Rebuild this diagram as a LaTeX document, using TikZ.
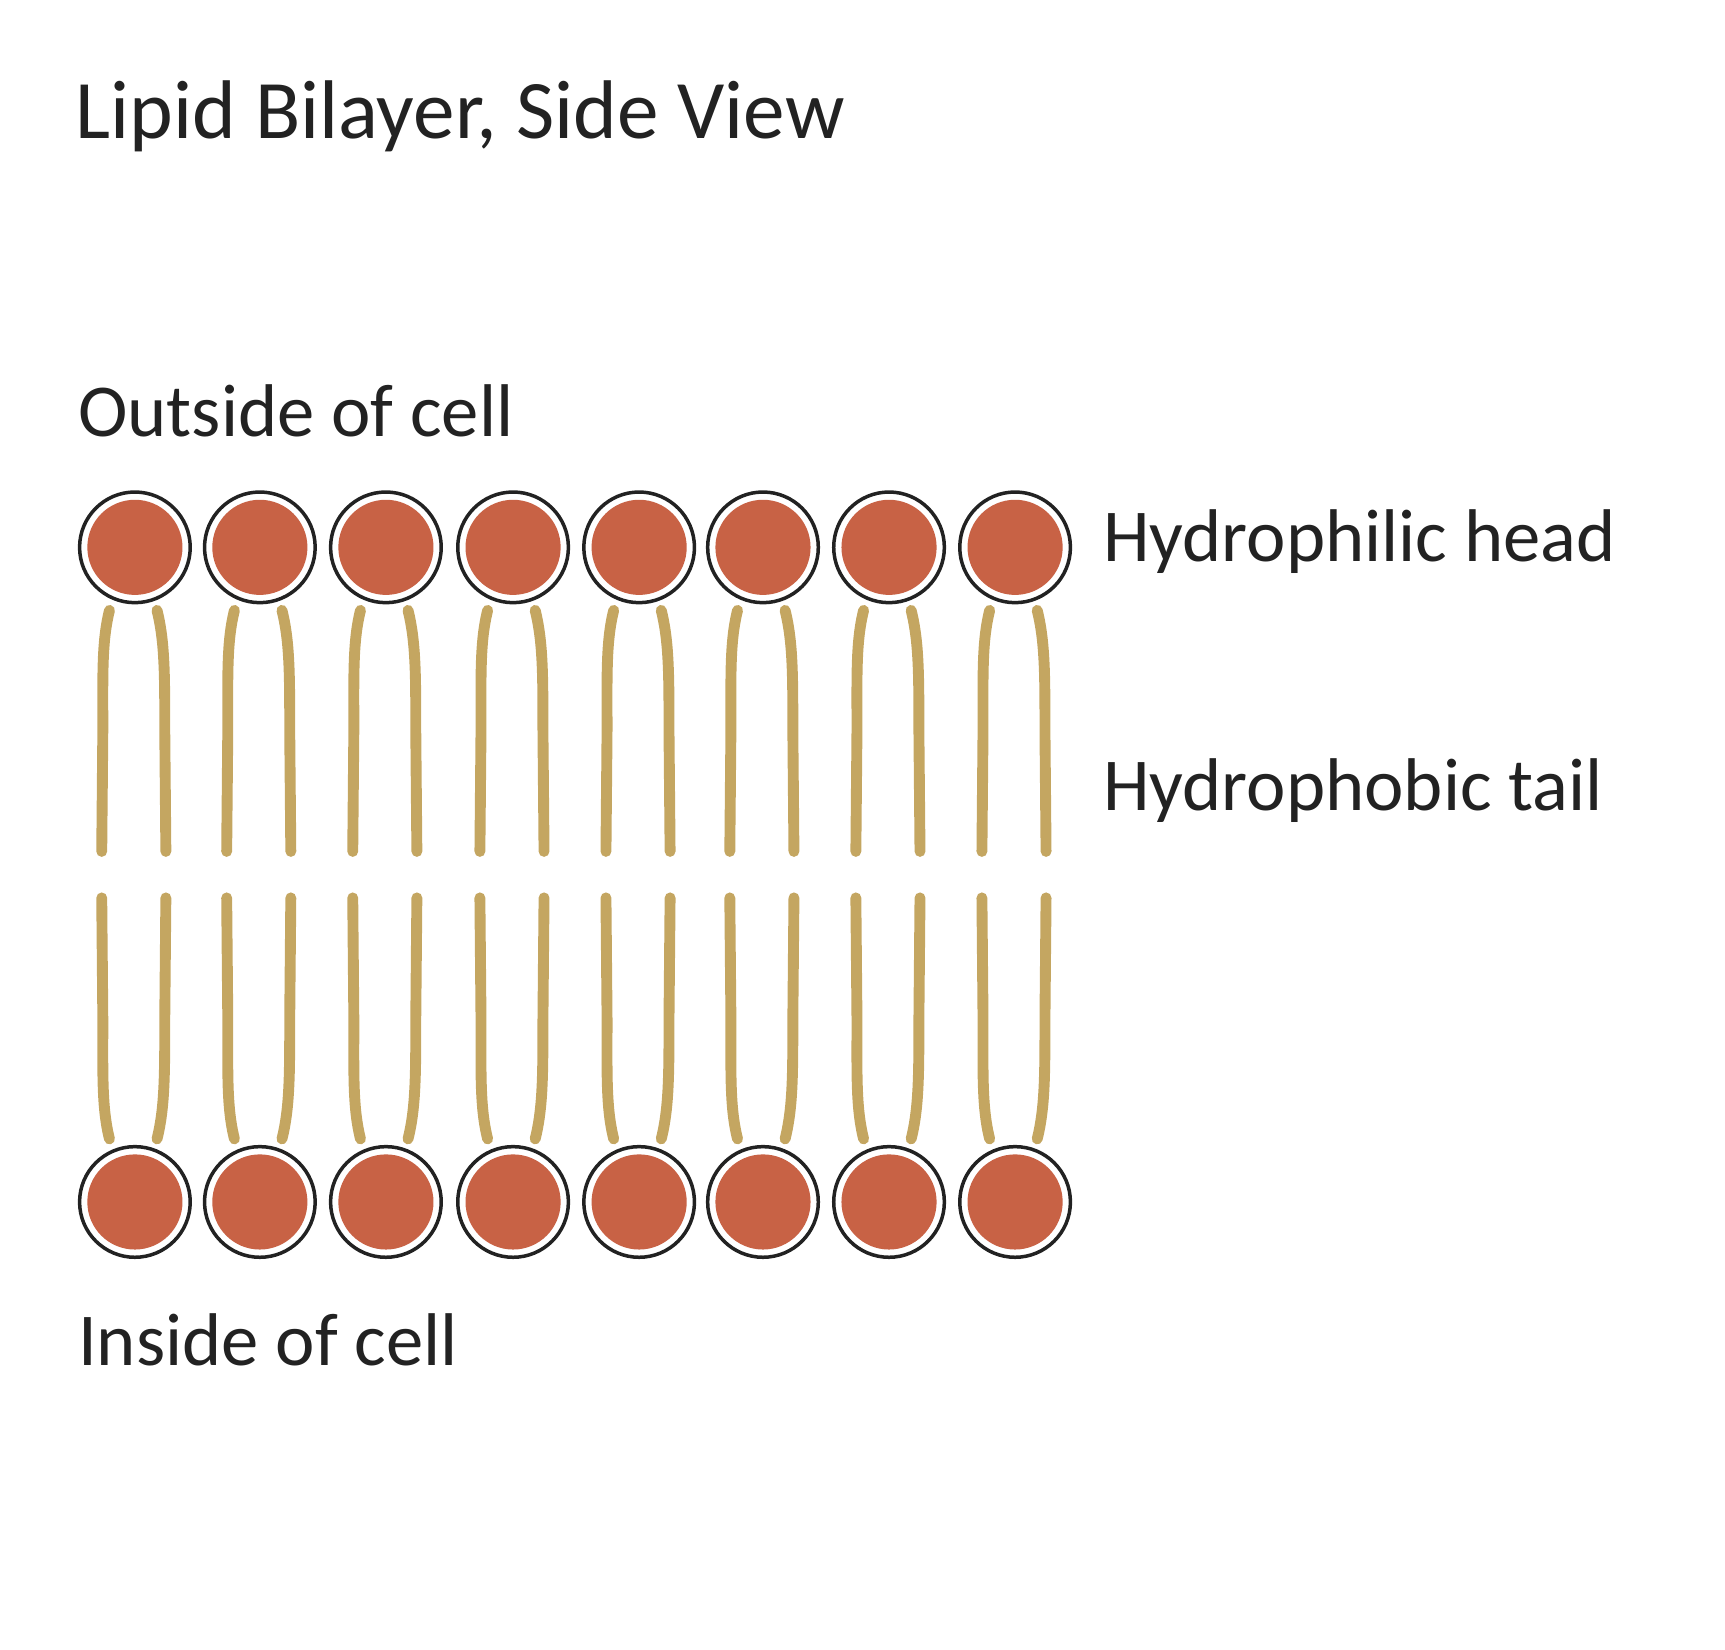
\documentclass[tikz,border=0pt]{standalone}
\usepackage{fontspec}
\setmainfont{Carlito}
\definecolor{head}{HTML}{C86245}
\definecolor{tail}{HTML}{C4A661}
\definecolor{ink}{HTML}{222222}
\begin{document}
\begin{tikzpicture}[x=0.01cm,y=-0.01cm,
  lbl/.style={anchor=base west,inner sep=0,text=ink,font=\fontsize{19.2}{22}\selectfont},
  ring/.style={circle,draw=ink,line width=0.9pt,fill=white,minimum size=1.0cm,inner sep=0},
  core/.style={circle,fill=head,minimum size=0.86cm,inner sep=0},
  tl/.style={draw=tail,line width=2.8pt,line cap=round}]
\useasboundingbox (0,0) rectangle (1560,1492);
\node[lbl,font=\fontsize{21.4}{25}\selectfont] (title) at (68,125) {Lipid Bilayer, Side View};
\node[lbl] (out) at (70,395) {Outside of cell};
\node[lbl] (in) at (70,1235) {Inside of cell};
\node[lbl] (hh) at (997,508) {Hydrophilic head};
\node[lbl] (ht) at (997,733) {Hydrophobic tail};
\foreach \x [count=\i] in {122,235,349,464,578,690,804,918}{
  \node[ring] (ut\i) at (\x,495) {};
  \node[core] (uc\i) at (\x,495) {};
  \node[ring] (lt\i) at (\x,1087) {};
  \node[core] (lc\i) at (\x,1087) {};
  \draw[tl] (\x-23,552) .. controls (\x-30,580) and (\x-29,610) .. (\x-29,660) -- (\x-30,770);
  \draw[tl] (\x+20,552) .. controls (\x+27,580) and (\x+27,610) .. (\x+27,660) -- (\x+28,770);
  \draw[tl] (\x-23,1030) .. controls (\x-30,1002) and (\x-29,972) .. (\x-29,922) -- (\x-30,812);
  \draw[tl] (\x+20,1030) .. controls (\x+27,1002) and (\x+27,972) .. (\x+27,922) -- (\x+28,812);
}
\end{tikzpicture}
\end{document}
